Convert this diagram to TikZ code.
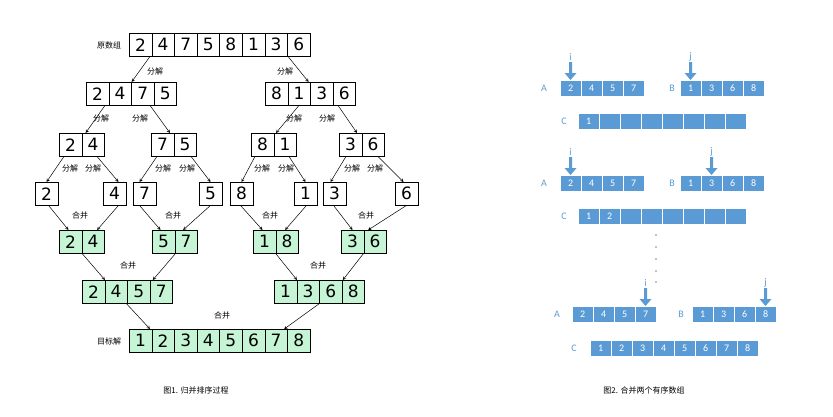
\documentclass[tikz,border=0pt]{standalone}
\usepackage{fontspec}
\setmainfont{DejaVu Sans}
\newfontfamily\cjk{Noto Sans CJK SC}
\newfontfamily\calfont{Carlito}
\usetikzlibrary{calc}
\definecolor{blu}{HTML}{5B9BD5}
\definecolor{grn}{HTML}{C6F5D6}
\tikzset{
 cellL/.style={draw,inner sep=0,minimum width=22.6pt,minimum height=23pt,font=\fontsize{17}{17}\selectfont},
 cellB/.style={draw=white,line width=0.3pt,fill=blu,text=white,inner sep=0,minimum width=21pt,minimum height=16pt,font=\calfont\fontsize{10}{10}\selectfont},
 arr/.style={->,>=stealth,line width=0.5pt},
 lab/.style={font=\cjk\fontsize{8}{8}\selectfont,inner sep=0},
 abl/.style={font=\calfont\fontsize{10}{10}\selectfont,text=blu,inner sep=0},
}
\newcommand\arrLL[5]{%
 \foreach \d [count=\k] in {#4}{\node[cellL,fill=#5,anchor=north west] (#1-\k) at ({#2+(\k-1)*22.6},#3) {\d};}}
\newcommand\arrB[4]{%
 \foreach \d [count=\k] in {#4}{\node[cellB,anchor=north west] (#1-\k) at ({#2+(\k-1)*21},#3) {\d};}}
\newcommand\darr[2]{\fill[blu] (#1-1.5,#2) -- (#1+1.5,#2) -- (#1+1.5,#2+11) -- (#1+6,#2+11) -- (#1,#2+18) -- (#1-6,#2+11) -- (#1-1.5,#2+11) -- cycle;}
\begin{document}
\begin{tikzpicture}[x=1pt,y=-1pt]
\useasboundingbox (0,0) rectangle (833,416);
% left diagram
\node[lab] (t0) at (109,45) {原数组};
\arrLL{r0}{129}{33}{2,4,7,5,8,1,3,6}{white}
\arrLL{a}{86}{82}{2,4,7,5}{white}
\arrLL{b}{265}{82}{8,1,3,6}{white}
\arrLL{c}{59}{133}{2,4}{white}
\arrLL{d}{151}{133}{7,5}{white}
\arrLL{e}{251}{133}{8,1}{white}
\arrLL{f}{339}{133}{3,6}{white}
\arrLL{s1}{35}{182}{2}{white}
\arrLL{s2}{103}{182}{4}{white}
\arrLL{s3}{133}{182}{7}{white}
\arrLL{s4}{199}{182}{5}{white}
\arrLL{s5}{230}{182}{8}{white}
\arrLL{s6}{294}{182}{1}{white}
\arrLL{s7}{323}{182}{3}{white}
\arrLL{s8}{395}{182}{6}{white}
\arrLL{g}{59}{230}{2,4}{grn}
\arrLL{h}{152}{230}{5,7}{grn}
\arrLL{k}{253}{230}{1,8}{grn}
\arrLL{m}{341}{230}{3,6}{grn}
\arrLL{p}{82}{280}{2,4,5,7}{grn}
\arrLL{q}{274}{280}{1,3,6,8}{grn}
\arrLL{z}{129}{329}{1,2,3,4,5,6,7,8}{grn}
\node[lab] (t1) at (109,341) {目标解};
% decompose arrows
\draw[arr] ($(r0-1.south west)+(21,0)$) -- ($(a-2.north east)$);
\draw[arr] ($(r0-1.south west)+(159,0)$) -- ($(b-2.north east)+(-2,0)$);
\draw[arr] ($(a-1.south west)+(19,0)$) -- ($(c-2.north west)+(4,0)$);
\draw[arr] ($(a-1.south west)+(64,0)$) -- ($(d-1.north west)+(19,0)$);
\draw[arr] ($(b-1.south west)+(34,0)$) -- ($(e-1.north west)+(25,0)$);
\draw[arr] ($(b-1.south west)+(73,0)$) -- ($(f-1.north west)+(18,0)$);
\draw[arr] ($(c-1.south west)+(5,0)$) -- (s1-1.north);
\draw[arr] ($(c-1.south west)+(38,0)$) -- ($(s2-1.north)+(4,0)$);
\draw[arr] ($(d-1.south west)+(6,0)$) -- ($(s3-1.north)+(-5,0)$);
\draw[arr] ($(d-1.south west)+(40,0)$) -- (s4-1.north);
\draw[arr] ($(e-1.south west)+(4,0)$) -- (s5-1.north);
\draw[arr] ($(e-1.south west)+(38,0)$) -- (s6-1.north);
\draw[arr] ($(f-1.south west)+(7,0)$) -- ($(s7-1.north)+(-4,0)$);
\draw[arr] ($(f-1.south west)+(39,0)$) -- ($(s8-1.north)+(-3,0)$);
\foreach \x/\y in {155/71,285/71,101/118,140/118,294/118,327/118,70/168,93/168,163/168,187/168,262/168,286/168,352/168,375/168}
  \node[lab] at (\x,\y) {分解};
% merge arrows
\draw[arr] ($(s1-1.south)+(2,0)$) -- ($(g-1.north)+(-2,0)$);
\draw[arr] ($(s2-1.south)+(4,0)$) -- ($(g-2.north)+(4,0)$);
\draw[arr] ($(s3-1.south)+(-5,0)$) -- ($(h-1.north)+(-3,0)$);
\draw[arr] (s4-1.south) -- ($(h-2.north)+(-3,0)$);
\draw[arr] ($(s5-1.south)+(-1,0)$) -- ($(k-1.north)-(2,0)$);
\draw[arr] ($(s6-1.south)+(1,0)$) -- ($(k-2.north)+(-2,0)$);
\draw[arr] ($(s7-1.south)+(-1,0)$) -- ($(m-1.north)$);
\draw[arr] ($(s8-1.south)$) -- ($(m-2.north)+(-7,0)$);
\draw[arr] ($(g-1.south east)$) -- ($(p-1.north east)$);
\draw[arr] ($(h-2.south west)+(1,0)$) -- ($(p-4.north west)+(3,0)$);
\draw[arr] ($(k-2.south west)$) -- ($(q-1.north east)$);
\draw[arr] ($(m-2.south west)+(0,0)$) -- ($(q-4.north west)+(1,0)$);
\draw[arr] ($(p-3.south west)+(-1,0)$) -- ($(z-1.north east)-(2,0)$);
\draw[arr] ($(q-2.south east)$) -- ($(z-8.north west)-(3,0)$);
\foreach \x/\y in {80/215,173/215,270/215,366/215,128/265,318/265,222/315}
  \node[lab] at (\x,\y) {合并};
\node[lab] (c1) at (196,390) {图1. 归并排序过程};
% right diagram
\node[abl] (A1) at (544,88) {A};
\arrB{A1c}{560}{80}{2,4,5,7}
\node[abl] (B1) at (672,88) {B};
\arrB{B1c}{680}{80}{1,3,6,8}
\node[abl] (C1) at (564,121) {C};
\arrB{C1c}{578}{113}{1,{},{},{},{},{},{},{}}
\darr{570.5}{62} \node[abl] at (570.5,57) {i};
\darr{690.5}{62} \node[abl] at (690.5,57) {j};
\node[abl] (A2) at (544,183) {A};
\arrB{A2c}{560}{175}{2,4,5,7}
\node[abl] (B2) at (672,183) {B};
\arrB{B2c}{680}{175}{1,3,6,8}
\node[abl] (C2) at (564,216) {C};
\arrB{C2c}{578}{208}{1,2,{},{},{},{},{},{}}
\darr{570.5}{157} \node[abl] at (570.5,152) {i};
\darr{711.5}{157} \node[abl] at (711.5,152) {j};
\foreach \y in {235,247,259,271,282} \fill (656,\y) circle (0.6);
\node[abl] (A3) at (557,314) {A};
\arrB{A3c}{572}{306}{2,4,5,7}
\node[abl] (B3) at (681,314) {B};
\arrB{B3c}{692}{306}{1,3,6,8}
\node[abl] (C3) at (574,348) {C};
\arrB{C3c}{590}{340}{1,2,3,4,5,6,7,8}
\darr{645.5}{288} \node[abl] at (645.5,283) {i};
\darr{765.5}{288} \node[abl] at (765.5,283) {j};
\node[lab] (c2) at (644,390) {图2. 合并两个有序数组};
\end{tikzpicture}
\end{document}
